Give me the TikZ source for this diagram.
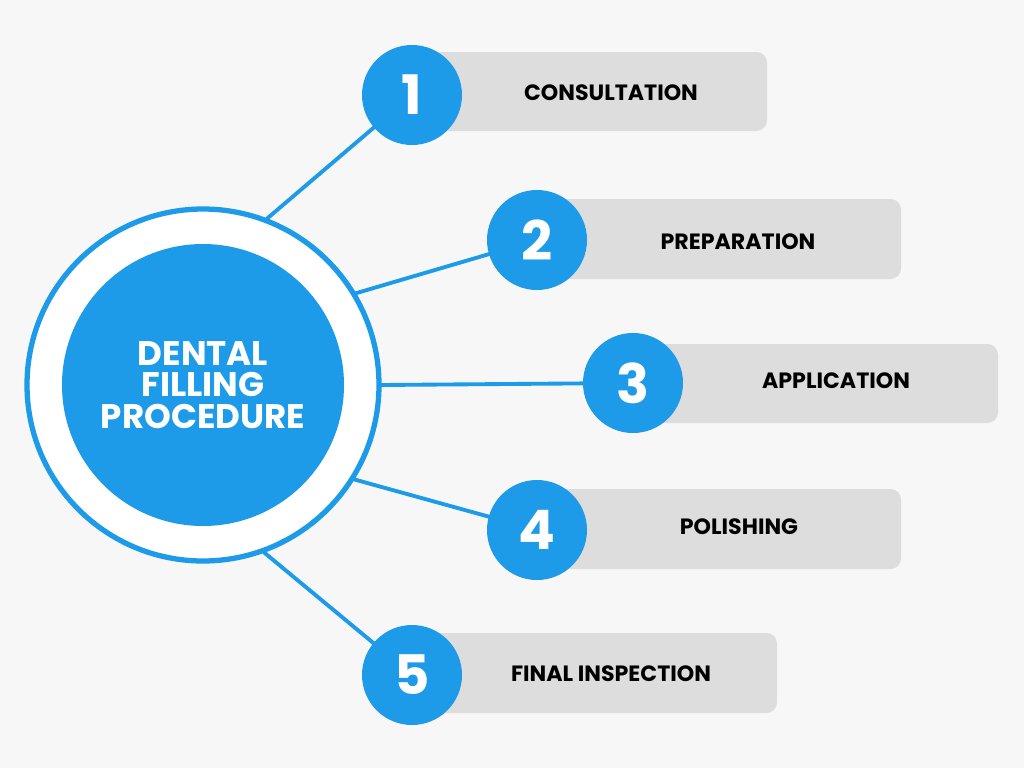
\documentclass[tikz,border=0pt]{standalone}
\usepackage{fontspec}
\setmainfont{Poppins}
\usetikzlibrary{calc}
\definecolor{stepblue}{HTML}{1D9BE8}
\definecolor{bargray}{HTML}{DDDDDD}
\definecolor{paper}{HTML}{F7F7F7}
\begin{document}
\begin{tikzpicture}[x=0.02cm, y=-0.02cm,
        num/.style={circle, fill=stepblue, minimum size=100*0.02cm, inner sep=0pt,
            text=white, font=\fontsize{31}{31}\selectfont\bfseries},
        bar/.style={fill=bargray, rounded corners=6pt},
        lbl/.style={font=\fontsize{12.6}{14}\selectfont\bfseries, text=black},
        link/.style={stepblue, line width=2.2pt}
    ]

        % Background
        \fill[paper] (0,0) rectangle (1024,768);

        % Grey bars behind the numbers
        \fill[bar] (430,52) rectangle (767,131);
        \fill[bar] (555,199) rectangle (901,279);
        \fill[bar] (650,344) rectangle (998,423);
        \fill[bar] (555,489) rectangle (901,569);
        \fill[bar] (430,633) rectangle (777,713);

        % Hub
        \coordinate (hub) at (203,385);
        \foreach \i/\a in {1/69, 2/31, 3/0, 4/-32, 5/-70}
            \coordinate (r\i) at ($(hub)+(\a:178*0.02cm)$);

        % Connectors
        \node (n1) at (412,95) {};
        \node (n2) at (537,240) {};
        \node (n3) at (633,383) {};
        \node (n4) at (537,530) {};
        \node (n5) at (412,675) {};
        \foreach \i in {1,...,5}
            \draw[link] (r\i) -- (n\i.center);

        % Ring and centre disc
        \draw[stepblue, line width=3pt, fill=white] (hub) circle[radius=176*0.02cm];
        \node[circle, fill=stepblue, minimum size=282*0.02cm, text=white, align=center,
            font=\fontsize{19.4}{18}\selectfont\bfseries] (core) at (hub)
            {DENTAL\\FILLING\\PROCEDURE};

        % Numbered steps
        \foreach \i in {1,...,5}
            \node[num] at (n\i) {\i};

        % Step labels
        \node[lbl] (t1) at (611,93) {CONSULTATION};
        \node[lbl] (t2) at (738,242) {PREPARATION};
        \node[lbl] (t3) at (836,381) {APPLICATION};
        \node[lbl] (t4) at (739,527) {POLISHING};
        \node[lbl] (t5) at (611,674) {FINAL INSPECTION};

    \end{tikzpicture}
\end{document}
